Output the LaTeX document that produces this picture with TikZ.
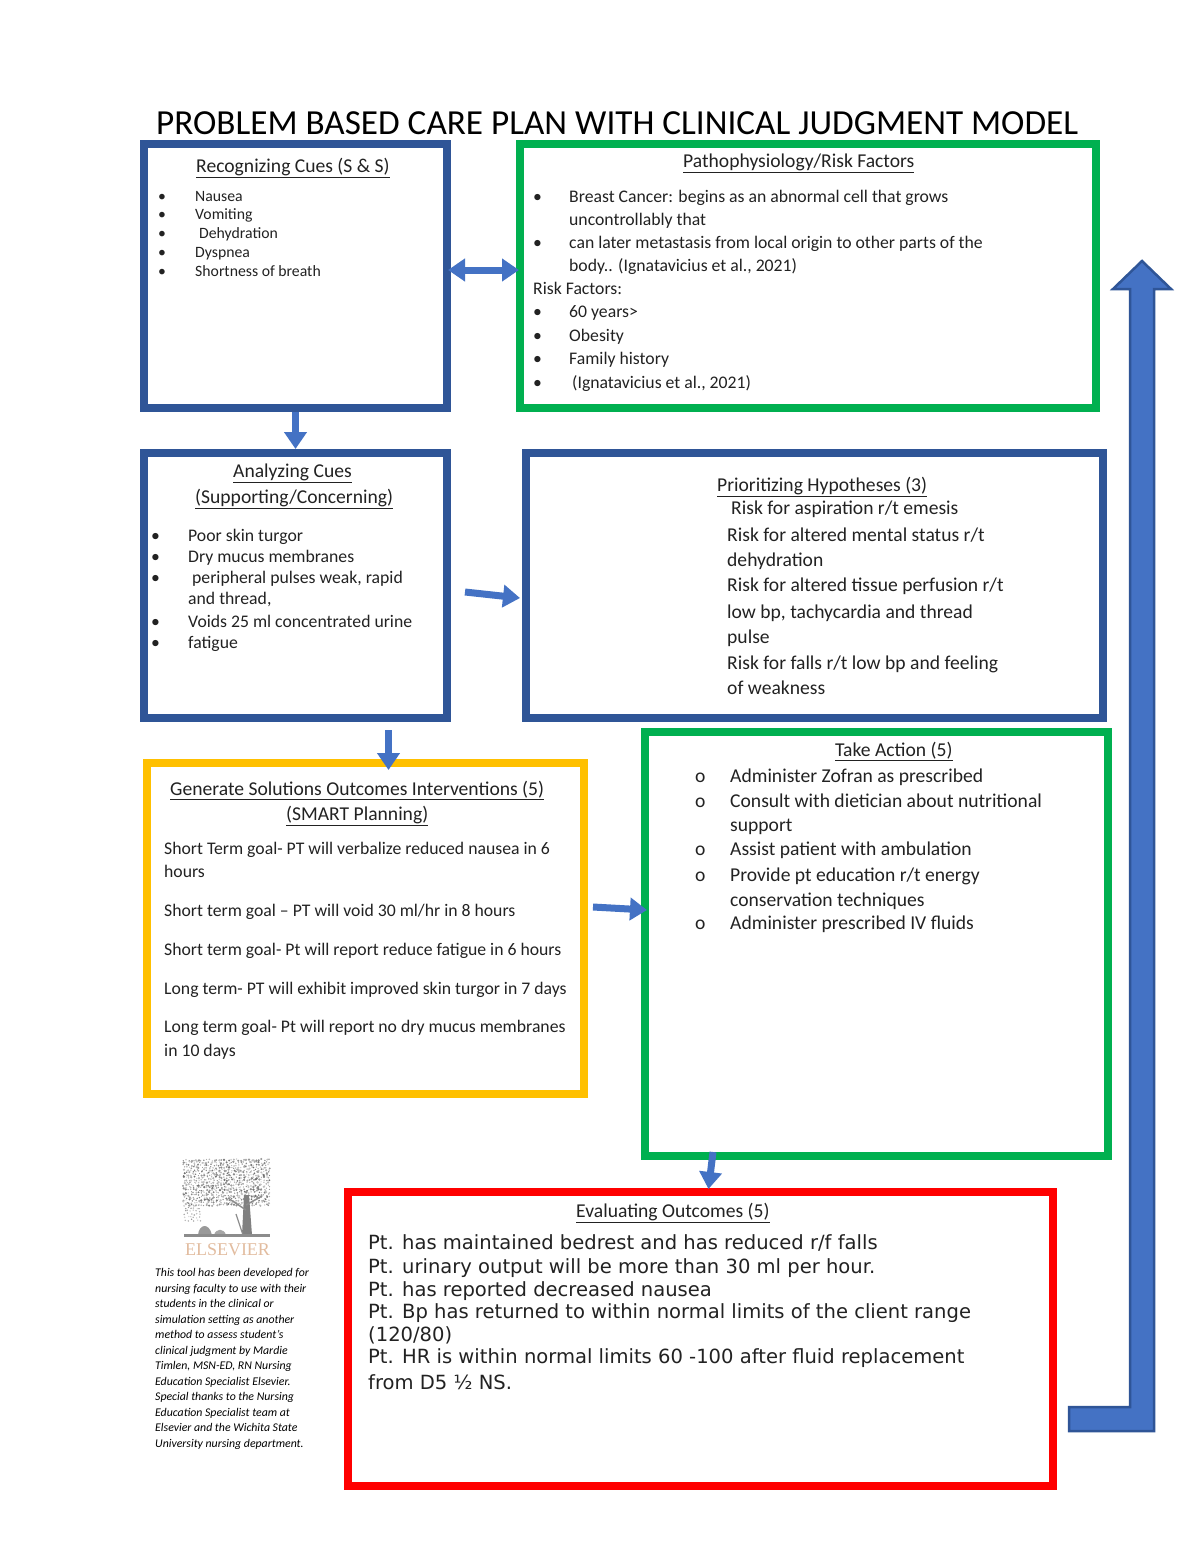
\documentclass[tikz,border=0pt]{standalone}
\usepackage{fontspec}
\setmainfont{Carlito}
\newfontfamily\evalfont{DejaVu Sans}
\newfontfamily\logofont{Liberation Serif}
\usetikzlibrary{arrows.meta,calc}
\definecolor{bbox}{HTML}{2F5597}
\definecolor{gbox}{HTML}{00B050}
\definecolor{ybox}{HTML}{FFC000}
\definecolor{rbox}{HTML}{FF0000}
\definecolor{afill}{HTML}{4472C4}
\definecolor{ink}{HTML}{222222}
\definecolor{logotan}{HTML}{E2BC9F}
\newcommand{\fsz}[1]{\fontsize{#1}{#1}\selectfont}
\newcommand{\tl}[5][body]{\node[#1,#2] at (#3,#4) {#5};}
\tikzset{
 frame/.style={draw=#1,line width=8pt,fill=none,rectangle,inner sep=0pt},
 body/.style={anchor=base west,inner sep=0pt,text=ink,font=\fsz{19.6}},
 small/.style={body,font=\fsz{15.75}},
 mid/.style={body,font=\fsz{17.7}},
 evalt/.style={body,font=\fsz{19.55}\evalfont},
 note/.style={body,text=black,font=\fsz{11.8}\itshape},
 blockarrow/.style={draw=afill,line width=7pt,-{Triangle[length=17pt,width=22pt]}},
 bothways/.style={draw=afill,line width=7pt,{Triangle[length=17pt,width=22pt]}-{Triangle[length=17pt,width=22pt]}},
}
\begin{document}
\begin{tikzpicture}[x=1pt,y=-1pt]
\useasboundingbox (0,0) rectangle (1200,1553);
\fill[white] (0,0) rectangle (1200,1553);

% boxes
\node[frame=bbox,minimum width=303pt,minimum height=264pt] (rec) at (295.5,276) {};
\node[frame=gbox,minimum width=576pt,minimum height=264pt] (pat) at (808,276) {};
\node[frame=bbox,minimum width=303pt,minimum height=265pt] (ana) at (295.5,585.5) {};
\node[frame=bbox,minimum width=577pt,minimum height=265pt] (hyp) at (814.5,585.5) {};
\node[frame=ybox,minimum width=437pt,minimum height=331pt] (gen) at (365.5,928.5) {};
\node[frame=gbox,minimum width=463pt,minimum height=424pt] (act) at (876.5,944) {};
\node[frame=rbox,minimum width=705pt,minimum height=294pt] (eva) at (700.5,1339) {};

% title
\node[anchor=base west,inner sep=0pt,text=black,font=\fsz{35.2}] (title) at (156,134) {PROBLEM BASED CARE PLAN WITH CLINICAL JUDGMENT MODEL};

% recognizing cues
\tl[body]{name=r0}{196}{172}{\underline{Recognizing Cues (S \& S)}}
\tl[small]{name=r1b}{158}{201}{•}\tl[small]{name=r1}{195}{201}{Nausea}
\tl[small]{name=r2b}{158}{219}{•}\tl[small]{name=r2}{195}{219}{Vomiting}
\tl[small]{name=r3b}{158}{238}{•}\tl[small]{name=r3}{199}{238}{Dehydration}
\tl[small]{name=r4b}{158}{257}{•}\tl[small]{name=r4}{195}{257}{Dyspnea}
\tl[small]{name=r5b}{158}{276}{•}\tl[small]{name=r5}{195}{276}{Shortness of breath}

% pathophysiology
\tl[body]{name=p0}{683}{167}{\underline{Pathophysiology/Risk Factors}}
\tl[mid]{name=p1b}{533}{202}{•}\tl[mid]{name=p1}{569}{202}{Breast Cancer: begins as an abnormal cell that grows}
\tl[mid]{name=p2}{569}{225}{uncontrollably that}
\tl[mid]{name=p3b}{533}{248}{•}\tl[mid]{name=p3}{569}{248}{can later metastasis from local origin to other parts of the}
\tl[mid]{name=p4}{569}{271}{body.. (Ignatavicius et al., 2021)}
\tl[mid]{name=p5}{533}{294}{Risk Factors:}
\tl[mid]{name=p6b}{533}{317}{•}\tl[mid]{name=p6}{569}{317}{60 years>}
\tl[mid]{name=p7b}{533}{341}{•}\tl[mid]{name=p7}{569}{341}{Obesity}
\tl[mid]{name=p8b}{533}{364}{•}\tl[mid]{name=p8}{569}{364}{Family history}
\tl[mid]{name=p9b}{533}{388}{•}\tl[mid]{name=p9}{572}{388}{(Ignatavicius et al., 2021)}

% analyzing cues
\tl[body]{name=a0}{233}{477}{\underline{Analyzing Cues}}
\tl[body]{name=a1}{195}{503}{\underline{(Supporting/Concerning)}}
\tl[mid]{name=a2b}{151}{541}{•}\tl[mid]{name=a2}{188}{541}{Poor skin turgor}
\tl[mid]{name=a3b}{151}{562}{•}\tl[mid]{name=a3}{188}{562}{Dry mucus membranes}
\tl[mid]{name=a4b}{151}{583}{•}\tl[mid]{name=a4}{192}{583}{peripheral pulses weak, rapid}
\tl[mid]{name=a5}{188}{604}{and thread,}
\tl[mid]{name=a6b}{151}{627}{•}\tl[mid]{name=a6}{188}{627}{Voids 25 ml concentrated urine}
\tl[mid]{name=a7b}{151}{648}{•}\tl[mid]{name=a7}{188}{648}{fatigue}

% hypotheses
\tl[body]{name=h0}{717}{491}{\underline{Prioritizing Hypotheses (3)}}
\tl[body]{name=h1}{731}{514}{Risk for aspiration r/t emesis}
\tl[body]{name=h2}{727}{541}{Risk for altered mental status r/t}
\tl[body]{name=h3}{727}{566}{dehydration}
\tl[body]{name=h4}{727}{591}{Risk for altered tissue perfusion r/t}
\tl[body]{name=h5}{727}{618}{low bp, tachycardia and thread}
\tl[body]{name=h6}{727}{643}{pulse}
\tl[body]{name=h7}{727}{669}{Risk for falls r/t low bp and feeling}
\tl[body]{name=h8}{727}{694}{of weakness}

% generate solutions
\tl[body]{name=g0}{170}{795}{\underline{Generate Solutions Outcomes Interventions (5)}}
\tl[body]{name=g1}{286}{820}{\underline{(SMART Planning)}}
\tl[mid]{name=g2}{164}{854}{Short Term goal- PT will verbalize reduced nausea in 6}
\tl[mid]{name=g3}{164}{877}{hours}
\tl[mid]{name=g4}{164}{916}{Short term goal -- PT will void 30 ml/hr in 8 hours}
\tl[mid]{name=g5}{164}{955}{Short term goal- Pt will report reduce fatigue in 6 hours}
\tl[mid]{name=g6}{164}{994}{Long term- PT will exhibit improved skin turgor in 7 days}
\tl[mid]{name=g7}{164}{1032}{Long term goal- Pt will report no dry mucus membranes}
\tl[mid]{name=g8}{164}{1056}{in 10 days}

% take action
\tl[body]{name=t0}{835}{756}{\underline{Take Action (5)}}
\tl[body]{name=t1b}{695}{782}{o}\tl[body]{name=t1}{730}{782}{Administer Zofran as prescribed}
\tl[body]{name=t2b}{695}{807}{o}\tl[body]{name=t2}{730}{807}{Consult with dietician about nutritional}
\tl[body]{name=t3}{730}{831}{support}
\tl[body]{name=t4b}{695}{855}{o}\tl[body]{name=t4}{730}{855}{Assist patient with ambulation}
\tl[body]{name=t5b}{695}{881}{o}\tl[body]{name=t5}{730}{881}{Provide pt education r/t energy}
\tl[body]{name=t6}{730}{906}{conservation techniques}
\tl[body]{name=t7b}{695}{929}{o}\tl[body]{name=t7}{730}{929}{Administer prescribed IV fluids}

% evaluating outcomes
\tl[body]{name=e0}{576}{1217}{\underline{Evaluating Outcomes (5)}}
\tl[evalt]{name=e1}{368}{1249}{Pt. has maintained bedrest and has reduced r/f falls}
\tl[evalt]{name=e2}{368}{1273}{Pt. urinary output will be more than 30 ml per hour.}
\tl[evalt]{name=e3}{368}{1296}{Pt. has reported decreased nausea}
\tl[evalt]{name=e4}{368}{1318}{Pt. Bp has returned to within normal limits of the client range}
\tl[evalt]{name=e5}{368}{1341}{(120/80)}
\tl[evalt]{name=e6}{368}{1363}{Pt. HR is within normal limits 60 -100 after fluid replacement}
\tl[evalt]{name=e7}{368}{1389}{from D5 ½ NS.}

% logo
\pgfmathsetseed{7}
\foreach \px in {183,185.5,...,268}{
 \foreach \py in {1159,1161.5,...,1204}{
  \pgfmathsetmacro{\shade}{rnd*40+18}
  \pgfmathsetmacro{\sz}{rnd*0.8+0.5}
  \fill[black!\shade] (\px+2*rnd,\py+2*rnd) circle (\sz pt);
 }}
\foreach \px in {184,187,...,200}{
 \foreach \py in {1204,1207,...,1219}{
  \pgfmathsetmacro{\shade}{rnd*30+15}
  \fill[black!\shade] (\px+2*rnd,\py+2*rnd) circle (0.8pt);
 }}
\fill[black!50] (244,1195) -- (249,1195) -- (252,1235) -- (242,1235) -- cycle;
\draw[black!45,line width=1.5pt] (246,1210) -- (228,1198);
\draw[black!45,line width=1.5pt] (246,1205) -- (262,1196);
\draw[black!45,line width=1.2pt] (243,1235) -- (236,1214);
\fill[black!40] (198,1235) .. controls (199,1224) and (209,1222) .. (212,1235) -- cycle;
\fill[black!35] (214,1235) .. controls (216,1228) and (224,1228) .. (226,1235) -- cycle;
\fill[black!45] (184,1234) rectangle (270,1236.5);
\node[anchor=base,inner sep=0pt,text=logotan,font=\fsz{18}\logofont] (logo) at (227.5,1255) {ELSEVIER};

% note
\tl[note]{name=n1}{155}{1276}{This tool has been developed for}
\tl[note]{name=n2}{155}{1292}{nursing faculty to use with their}
\tl[note]{name=n3}{155}{1307}{students in the clinical or}
\tl[note]{name=n4}{155}{1323}{simulation setting as another}
\tl[note]{name=n5}{155}{1338}{method to assess student's}
\tl[note]{name=n6}{155}{1354}{clinical judgment by Mardie}
\tl[note]{name=n7}{155}{1369}{Timlen, MSN-ED, RN Nursing}
\tl[note]{name=n8}{155}{1385}{Education Specialist Elsevier.}
\tl[note]{name=n9}{155}{1400}{Special thanks to the Nursing}
\tl[note]{name=n10}{155}{1416}{Education Specialist team at}
\tl[note]{name=n11}{155}{1431}{Elsevier and the Wichita State}
\tl[note]{name=n12}{155}{1447}{University nursing department.}

% connectors (yshift is in canvas direction: positive is up)
\draw[bothways] ([xshift=-3pt,yshift=6pt]rec.east) -- ([xshift=3pt,yshift=6pt]pat.west);
\draw[blockarrow] (rec.south) -- (ana.north);
\draw[blockarrow] ([xshift=14pt,yshift=-6.5pt]ana.east) -- ([xshift=-2pt,yshift=-12.5pt]hyp.west);
\draw[blockarrow] ([xshift=93pt,yshift=-8pt]ana.south) -- ([xshift=23pt,yshift=-11pt]gen.north);
\draw[blockarrow] ([xshift=5pt,yshift=21.5pt]gen.east) -- ([xshift=6pt,yshift=34pt]act.west);
\draw[blockarrow] ([xshift=-163.5pt,yshift=8pt]act.south) -- ([xshift=8pt,yshift=-1pt]eva.north);

% large return arrow
\draw[draw=bbox,fill=afill,line width=2.5pt,line join=miter]
 (1069,1407) -- (1130,1407) -- (1130,289) -- (1113,289) -- (1142,261) -- (1171,289) -- (1154,289) -- (1154,1431) -- (1069,1431) -- cycle;
\end{tikzpicture}
\end{document}
